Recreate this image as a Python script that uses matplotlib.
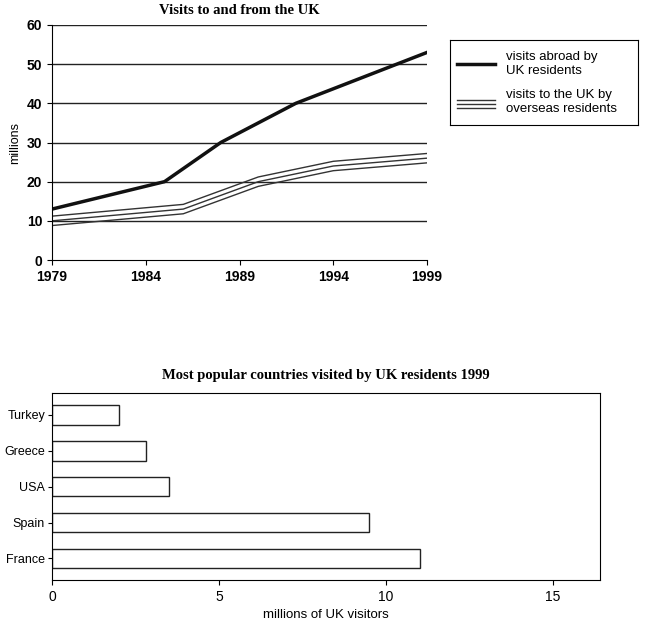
import matplotlib
matplotlib.use("Agg")
import matplotlib.pyplot as plt

years = [1979, 1985, 1988, 1992, 1999]
abroad = [13, 20, 30, 40, 53]
years_o = [1979, 1986, 1990, 1994, 1999]
overseas = [10, 13, 20, 24, 26]
countries = ["France", "Spain", "USA", "Greece", "Turkey"]
visitors = [11, 9.5, 3.5, 2.8, 2.0]

plt.rcParams['font.family'] = ['Liberation Sans', 'DejaVu Sans']
fig = plt.figure(figsize=(6.5, 6.25), dpi=100)

ax = fig.add_axes([0.08, 0.584, 0.577, 0.376])
for y in range(10, 70, 10):
    ax.axhline(y, color='#222', lw=1)
ax.plot(years, abroad, color='#111', lw=2.5)
for off in (-1.2, 0, 1.2):
    ax.plot(years_o, [v + off for v in overseas], color='#333', lw=1)
ax.set_xlim(1979, 1999); ax.set_ylim(0, 60)
ax.set_xticks([1979, 1984, 1989, 1994, 1999])
ax.set_yticks(range(0, 70, 10))
ax.spines['top'].set_visible(False); ax.spines['right'].set_visible(False)
ax.tick_params(labelsize=10)
for l in ax.get_xticklabels() + ax.get_yticklabels():
    l.set_fontweight('bold')
ax.set_ylabel("millions", fontsize=9)
ax.set_title("Visits to and from the UK", fontfamily='Liberation Serif',
             fontweight='bold', fontsize=10.5, pad=8)

lax = fig.add_axes([0.692, 0.80, 0.29, 0.136])
lax.set_xticks([]); lax.set_yticks([])
lax.set_xlim(0, 1); lax.set_ylim(0, 1)
lax.plot([0.04, 0.24], [0.72, 0.72], color='#111', lw=2.5)
for off in (-0.05, 0, 0.05):
    lax.plot([0.04, 0.24], [0.25 + off, 0.25 + off], color='#333', lw=1)
lax.text(0.3, 0.72, "visits abroad by\nUK residents", va='center', fontsize=9.5)
lax.text(0.3, 0.27, "visits to the UK by\noverseas residents", va='center', fontsize=9.5)

bx = fig.add_axes([0.08, 0.072, 0.843, 0.299])
bx.barh(countries, visitors, height=0.55, color='white', edgecolor='#222', lw=1)
bx.set_xlim(0, 16.4)
bx.set_ylim(-0.6, 4.6)
bx.set_xticks([0, 5, 10, 15])
bx.tick_params(axis='x', labelsize=10)
bx.tick_params(axis='y', labelsize=9, pad=2, length=3)
bx.set_xlabel("millions of UK visitors", fontsize=9.5)
bx.set_title("Most popular countries visited by UK residents 1999",
             fontfamily='Liberation Serif', fontweight='bold', fontsize=10.5, pad=10)
fig.savefig("out.png")
